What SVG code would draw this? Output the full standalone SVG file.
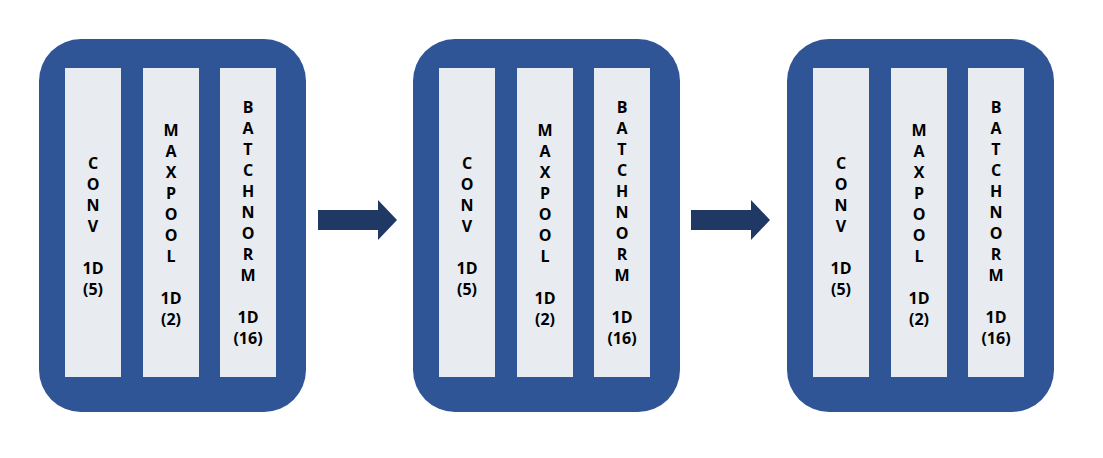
<svg xmlns="http://www.w3.org/2000/svg" width="1103" height="458" viewBox="0 0 1103 458">
<style>
.blk{fill:#2f5597}.col{fill:#e8ebf0}.arr{fill:#203864}
text{font-family:"Open Sans","DejaVu Sans",sans-serif;font-weight:bold;font-size:16px;fill:#000;text-anchor:middle}
</style>
<defs>
<g id="block">
<rect class="blk" x="39" y="39" width="267" height="373" rx="42"/>
<rect class="col" x="65" y="68" width="56" height="309"/>
<rect class="col" x="143" y="68" width="56" height="309"/>
<rect class="col" x="220" y="68" width="56" height="309"/>
<text x="93"><tspan x="93" y="169">C</tspan><tspan x="93" y="190">O</tspan><tspan x="93" y="211">N</tspan><tspan x="93" y="232">V</tspan><tspan x="93" y="274">1D</tspan><tspan x="93" y="295">(5)</tspan></text>
<text x="171"><tspan x="171" y="136">M</tspan><tspan x="171" y="157">A</tspan><tspan x="171" y="178">X</tspan><tspan x="171" y="199">P</tspan><tspan x="171" y="220">O</tspan><tspan x="171" y="241">O</tspan><tspan x="171" y="262">L</tspan><tspan x="171" y="304">1D</tspan><tspan x="171" y="325">(2)</tspan></text>
<text x="248"><tspan x="248" y="113">B</tspan><tspan x="248" y="134">A</tspan><tspan x="248" y="155">T</tspan><tspan x="248" y="176">C</tspan><tspan x="248" y="197">H</tspan><tspan x="248" y="218">N</tspan><tspan x="248" y="239">O</tspan><tspan x="248" y="260">R</tspan><tspan x="248" y="281">M</tspan><tspan x="248" y="323">1D</tspan><tspan x="248" y="344">(16)</tspan></text>
</g>
</defs>
<g id="node1"><use href="#block"/></g>
<g id="node2"><use href="#block" x="374"/></g>
<g id="node3"><use href="#block" x="748"/></g>
<g id="connectors">
<polygon class="arr" points="318,210 378,210 378,200 397,220 378,240 378,230 318,230"/>
<polygon class="arr" points="691,210 751,210 751,200 770,220 751,240 751,230 691,230"/>
</g>
</svg>
